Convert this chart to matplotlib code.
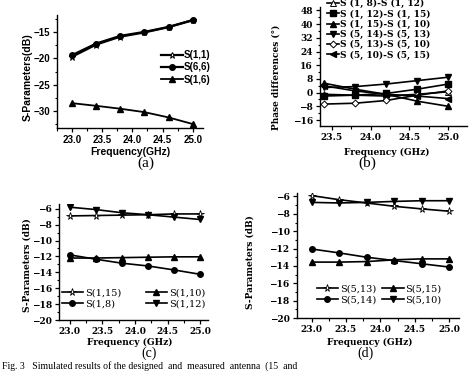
import matplotlib
matplotlib.use("Agg")
import matplotlib.pyplot as plt
from matplotlib.ticker import MultipleLocator, AutoMinorLocator

# ---------------- data ----------------
freq = [23.0, 23.4, 23.8, 24.2, 24.6, 25.0]
freq_b = [23.4, 23.8, 24.2, 24.6, 25.0]

# (a)
a_labels = ["S(1,1)", "S(6,6)", "S(1,6)"]
a_s11 = [-19.7, -17.4, -15.9, -15.1, -14.1, -12.8]
a_s66 = [-19.4, -17.2, -15.75, -15.0, -14.05, -12.75]
a_s16 = [-28.5, -29.0, -29.55, -30.2, -31.2, -32.45]

# (b)
b_labels = ["S (1, 8)-S (1, 12)", "S (1, 12)-S (1, 15)", "S (1, 15)-S (1, 10)",
            "S (5, 14)-S (5, 13)", "S (5, 13)-S (5, 10)", "S (5, 10)-S (5, 15)"]
b_1 = [-1.0, -1.5, -2.0, -1.0, 0.5]
b_2 = [-2.0, -1.5, -0.5, 2.0, 5.0]
b_3 = [5.5, 2.0, -1.0, -5.0, -8.0]
b_4 = [3.0, 3.5, 5.0, 7.0, 9.0]
b_5 = [-6.7, -6.2, -4.6, -1.5, 1.0]
b_6 = [4.0, 1.0, -1.0, -2.0, -3.5]

# (c)
c_labels = ["S(1,15)", "S(1,8)", "S(1,10)", "S(1,12)"]
c_s115 = [-6.9, -6.85, -6.8, -6.75, -6.65, -6.65]
c_s18 = [-11.8, -12.35, -12.85, -13.2, -13.7, -14.25]
c_s110 = [-12.2, -12.2, -12.15, -12.1, -12.05, -12.05]
c_s112 = [-5.8, -6.1, -6.5, -6.75, -7.05, -7.35]

# (d)
d_labels = ["S(5,13)", "S(5,14)", "S(5,15)", "S(5,10)"]
d_s513 = [-5.9, -6.37, -6.75, -7.13, -7.43, -7.7]
d_s514 = [-12.05, -12.5, -13.0, -13.38, -13.75, -14.13]
d_s515 = [-13.56, -13.56, -13.5, -13.3, -13.19, -13.19]
d_s510 = [-6.68, -6.75, -6.68, -6.57, -6.49, -6.49]

caption = "Fig. 3   Simulated results of the designed  and  measured  antenna  (15  and"

# ---------------- figure ----------------
fig = plt.figure(figsize=(4.74, 3.72), dpi=100)

SANS = "Liberation Sans"
SERIF = "DejaVu Serif"


def style_axes(ax, family, fs):
    for s in ("top", "right"):
        ax.spines[s].set_visible(False)
    for s in ("left", "bottom"):
        ax.spines[s].set_linewidth(1.0)
    ax.tick_params(which="major", direction="out", length=3, width=0.9,
                   labelsize=fs, pad=2)
    ax.tick_params(which="minor", direction="out", length=1.8, width=0.8)
    for lab in ax.get_xticklabels() + ax.get_yticklabels():
        lab.set_family(family)
        lab.set_fontweight("bold")


# ----- (a)
axa = fig.add_axes([57 / 474, 1 - 128 / 372, 146 / 474, 113 / 372])
axa.plot(freq, a_s11, color="black", lw=1.6, marker="*", ms=5, mfc="white", mec="black", mew=0.7, label=a_labels[0])
axa.plot(freq, a_s66, color="black", lw=1.6, marker="o", ms=4, label=a_labels[1])
axa.plot(freq, a_s16, color="black", lw=1.3, marker="^", ms=4.5, label=a_labels[2])
axa.set_xlim(22.75, 25.17)
axa.set_ylim(-33.2, -11.8)
axa.xaxis.set_major_locator(MultipleLocator(0.5))
axa.yaxis.set_major_locator(MultipleLocator(5))
axa.xaxis.set_major_formatter(matplotlib.ticker.FormatStrFormatter("%.1f"))
axa.yaxis.set_minor_locator(AutoMinorLocator(2))
axa.xaxis.set_minor_locator(AutoMinorLocator(2))
style_axes(axa, SANS, 7)
axa.set_xlabel("Frequency(GHz)", family=SANS, fontweight="bold", fontsize=7.5)
axa.set_ylabel("S-Parameters(dB)", family=SANS, fontweight="bold", fontsize=7.5)
axa.xaxis.set_label_coords(0.5, -0.17)
axa.yaxis.set_label_coords(-0.165, 0.45)
axa.legend(loc="upper left", bbox_to_anchor=(0.71, 0.69), frameon=False,
           prop={"family": SANS, "weight": "bold", "size": 7},
           handlelength=2.3, handletextpad=0.1, labelspacing=0.25, borderpad=0,
           borderaxespad=0)
fig.text(146 / 474, 1 - 163 / 372, "(a)", family="Liberation Serif", fontsize=11,
         ha="center", va="center")

# ----- (b)
axb = fig.add_axes([320 / 474, 1 - 126 / 372, 147 / 474, 119 / 372])
kw = dict(color="black", lw=1.2, ms=4)
axb.plot(freq_b, b_1, marker="^", mfc="white", mec="black", mew=0.7, label=b_labels[0], **kw)
axb.plot(freq_b, b_2, marker="s", label=b_labels[1], **kw)
axb.plot(freq_b, b_3, marker="^", label=b_labels[2], **kw)
axb.plot(freq_b, b_4, marker="v", label=b_labels[3], **kw)
axb.plot(freq_b, b_5, marker="D", mfc="white", mec="black", mew=0.7, label=b_labels[4], color="black", lw=1.2, ms=3.5)
axb.plot(freq_b, b_6, marker="<", label=b_labels[5], **kw)
axb.set_xlim(23.35, 25.24)
axb.set_ylim(-19.5, 50)
axb.xaxis.set_major_locator(MultipleLocator(0.5))
axb.xaxis.set_major_formatter(matplotlib.ticker.FormatStrFormatter("%.1f"))
axb.yaxis.set_major_locator(MultipleLocator(8))
axb.yaxis.set_minor_locator(AutoMinorLocator(2))
axb.xaxis.set_minor_locator(AutoMinorLocator(2))
axb.set_yticks([-16, -8, 0, 8, 16, 24, 32, 40, 48])
style_axes(axb, SERIF, 6.5)
axb.set_xlabel("Frequency (GHz)", family=SERIF, fontweight="bold", fontsize=6.5)
axb.set_ylabel("Phase differences (°)", family=SERIF, fontweight="bold", fontsize=6.5)
axb.xaxis.set_label_coords(0.456, -0.18)
axb.yaxis.set_label_coords(-0.27, 0.41)
axb.legend(loc="upper left", bbox_to_anchor=(0.045, 1.065), frameon=False,
           prop={"family": SERIF, "weight": "bold", "size": 6.5},
           handlelength=1.4, handletextpad=0.05, labelspacing=0.12, borderpad=0,
           borderaxespad=0)
fig.text(367 / 474, 1 - 163 / 372, "(b)", family="Liberation Serif", fontsize=11,
         ha="center", va="center")

# ----- (c)
axc = fig.add_axes([59.3 / 474, 1 - 320 / 372, 148.7 / 474, 116 / 372])
axc.plot(freq, c_s115, marker="*", mfc="white", mec="black", mew=0.6, label=c_labels[0], color="black", lw=1.2, ms=5.5)
axc.plot(freq, c_s18, marker="o", label=c_labels[1], **kw)
axc.plot(freq, c_s110, marker="^", label=c_labels[2], **kw)
axc.plot(freq, c_s112, marker="v", label=c_labels[3], **kw)
axc.set_xlim(22.84, 25.12)
axc.set_ylim(-20, -5.4)
axc.xaxis.set_major_locator(MultipleLocator(0.5))
axc.xaxis.set_major_formatter(matplotlib.ticker.FormatStrFormatter("%.1f"))
axc.yaxis.set_major_locator(MultipleLocator(2))
axc.yaxis.set_minor_locator(AutoMinorLocator(2))
axc.xaxis.set_minor_locator(AutoMinorLocator(2))
style_axes(axc, SERIF, 6.5)
axc.set_xlabel("Frequency (GHz)", family=SERIF, fontweight="bold", fontsize=6.5)
axc.set_ylabel("S-Parameters (dB)", family=SERIF, fontweight="bold", fontsize=6.5)
axc.xaxis.set_label_coords(0.475, -0.155)
axc.yaxis.set_label_coords(-0.185, 0.47)
axc.legend(loc="upper left", bbox_to_anchor=(0.016, 0.27), frameon=False, ncol=2,
           prop={"family": SERIF, "weight": "normal", "size": 7},
           handlelength=2.2, handletextpad=0.2, labelspacing=0.2, borderpad=0,
           borderaxespad=0, columnspacing=2.5)
fig.text(149 / 474, 1 - 353 / 372, "(c)", family="Liberation Serif", fontsize=10,
         ha="center", va="center")

# ----- (d)
axd = fig.add_axes([296.5 / 474, 1 - 318 / 372, 162.2 / 474, 125 / 372])
axd.plot(freq, d_s513, marker="*", mfc="white", mec="black", mew=0.6, label=d_labels[0], color="black", lw=1.2, ms=5.5)
axd.plot(freq, d_s514, marker="o", label=d_labels[1], **kw)
axd.plot(freq, d_s515, marker="^", label=d_labels[2], **kw)
axd.plot(freq, d_s510, marker="v", label=d_labels[3], **kw)
axd.set_xlim(22.78, 25.14)
axd.set_ylim(-20, -5.6)
axd.xaxis.set_major_locator(MultipleLocator(0.5))
axd.xaxis.set_major_formatter(matplotlib.ticker.FormatStrFormatter("%.1f"))
axd.yaxis.set_major_locator(MultipleLocator(2))
axd.yaxis.set_minor_locator(AutoMinorLocator(2))
axd.xaxis.set_minor_locator(AutoMinorLocator(2))
style_axes(axd, SERIF, 6.5)
axd.set_xlabel("Frequency (GHz)", family=SERIF, fontweight="bold", fontsize=6.5)
axd.set_ylabel("S-Parameters (dB)", family=SERIF, fontweight="bold", fontsize=6.5)
axd.xaxis.set_label_coords(0.453, -0.16)
axd.yaxis.set_label_coords(-0.256, 0.45)
axd.legend(loc="upper left", bbox_to_anchor=(0.125, 0.27), frameon=False, ncol=2,
           prop={"family": SERIF, "weight": "normal", "size": 7},
           handlelength=2.2, handletextpad=0.2, labelspacing=0.2, borderpad=0,
           borderaxespad=0, columnspacing=0.6)
fig.text(365 / 474, 1 - 353 / 372, "(d)", family="Liberation Serif", fontsize=10,
         ha="center", va="center")

# caption along the bottom edge
fig.text(0.005, 0.002, caption, family="Liberation Serif", fontsize=7,
         ha="left", va="bottom")

fig.savefig("out.png", dpi=100)
